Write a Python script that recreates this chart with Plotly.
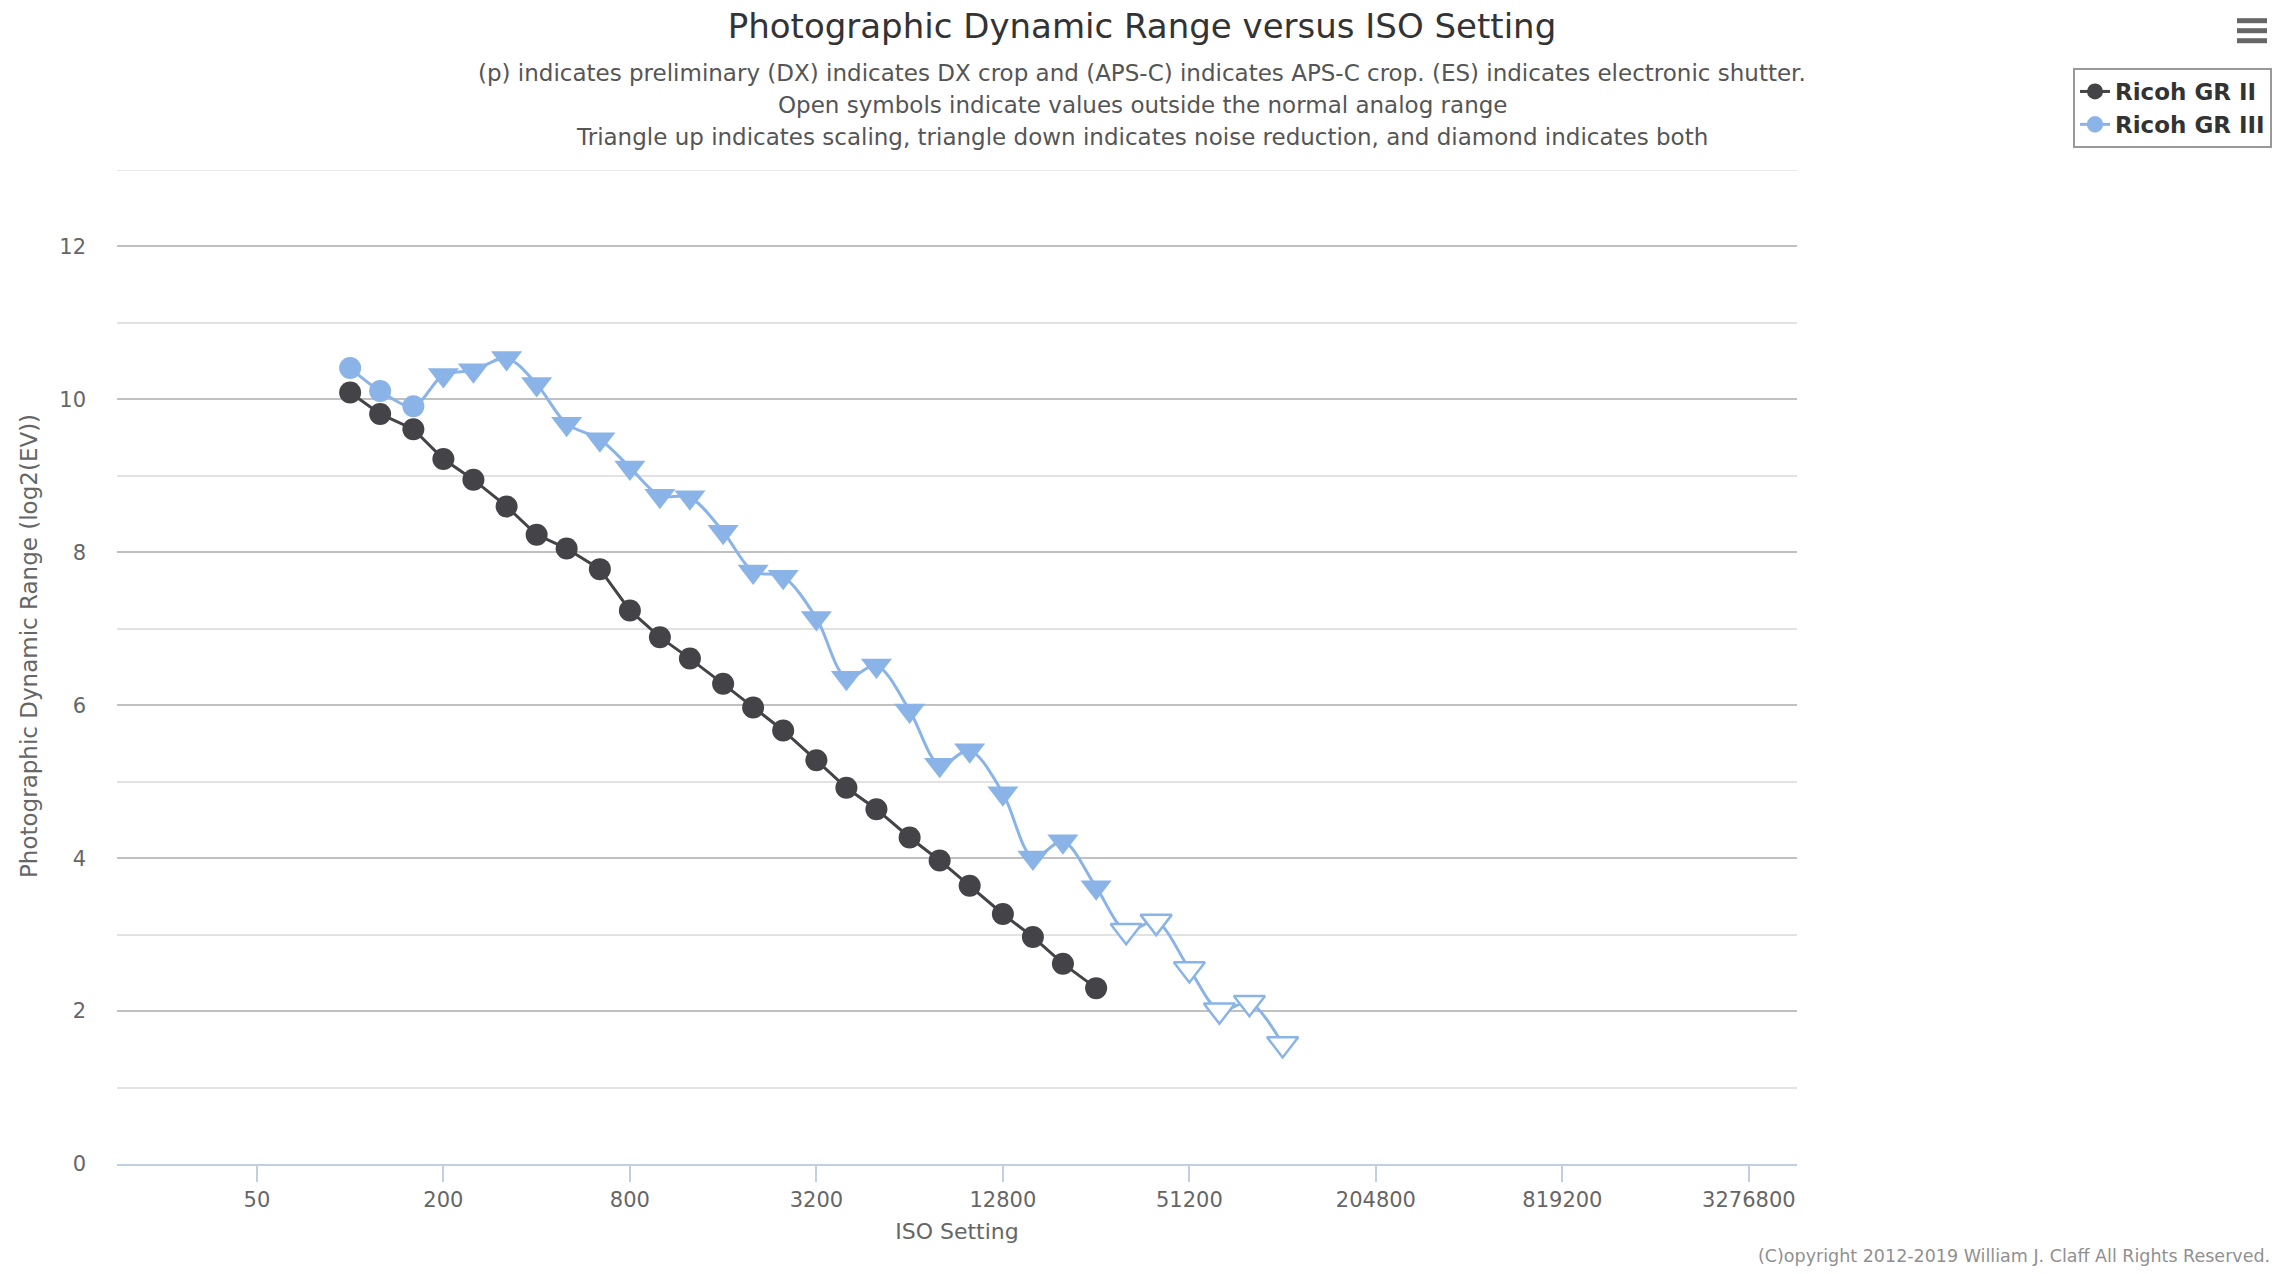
import numpy as np
import plotly.graph_objects as go

# ---------------- data ----------------
iso_gr2 = [100, 125, 160, 200, 250, 320, 400, 500, 640, 800, 1000, 1250, 1600,
           2000, 2500, 3200, 4000, 5000, 6400, 8000, 10000, 12800, 16000, 20000, 25600]
dr_gr2 = [10.09, 9.81, 9.61, 9.22, 8.95, 8.60, 8.23, 8.05, 7.78, 7.24, 6.89, 6.61, 6.28,
          5.97, 5.67, 5.28, 4.92, 4.64, 4.27, 3.97, 3.64, 3.27, 2.97, 2.62, 2.30]

iso_gr3 = [100, 125, 160, 200, 250, 320, 400, 500, 640, 800, 1000, 1250, 1600,
           2000, 2500, 3200, 4000, 5000, 6400, 8000, 10000, 12800, 16000, 20000, 25600,
           32000, 40000, 51200, 64000, 80000, 102400]
dr_gr3 = [10.41, 10.11, 9.91, 10.32, 10.38, 10.54, 10.20, 9.68, 9.48, 9.11, 8.74, 8.72, 8.27,
          7.75, 7.68, 7.14, 6.36, 6.52, 5.93, 5.22, 5.41, 4.85, 4.01, 4.22, 3.62,
          3.05, 3.17, 2.55, 2.01, 2.11, 1.57]
# flags: noise reduction applied (triangle down), outside normal analog range (open symbol)
gr3_noise_reduction = [0, 0, 0] + [1] * 28
gr3_outside_analog = [0] * 25 + [1] * 6

x_tick_vals = [50, 200, 800, 3200, 12800, 51200, 204800, 819200, 3276800]
x_tick_text = ["50", "200", "800", "3200", "12800", "51200", "204800", "819200", "3276800"]

# ---------------- styling ----------------
FONT = "DejaVu Sans"
C_DARK = "#434348"
C_BLUE = "#8ab4e8"

gr3_symbols = ["triangle-down" if nr else "circle" for nr in gr3_noise_reduction]
gr3_sizes = [27 if nr else 22 for nr in gr3_noise_reduction]
gr3_fill = ["white" if o else C_BLUE for o in gr3_outside_analog]
gr3_lw = [2.5 if o else 0 for o in gr3_outside_analog]

fig = go.Figure()
fig.add_trace(go.Scatter(
    x=iso_gr2, y=dr_gr2, name="Ricoh GR II", mode="lines+markers",
    line=dict(color=C_DARK, width=3),
    marker=dict(symbol="circle", size=22, color=C_DARK, opacity=1),
))
fig.add_trace(go.Scatter(
    x=iso_gr3, y=dr_gr3, name="Ricoh GR III", mode="lines+markers",
    line=dict(color=C_BLUE, width=3, shape="spline", smoothing=0.9),
    marker=dict(symbol=gr3_symbols, size=gr3_sizes, color=gr3_fill, opacity=1,
                line=dict(color=C_BLUE, width=gr3_lw)),
))

L, R, T, B = 117, 487, 170, 110
W, H = 2284, 1274
pw, ph = W - L - R, H - T - B

def px(xpix):
    return (xpix - L) / pw

def py(ypix):
    return (H - B - ypix) / ph

xr = [np.log10(50) - 1.5 * np.log10(2), np.log10(3276800) + 0.516 * np.log10(2)]

fig.update_layout(
    width=W, height=H,
    margin=dict(l=L, r=R, t=T, b=B, pad=0),
    paper_bgcolor="white", plot_bgcolor="white",
    font=dict(family=FONT, color="#666666"),
    title=dict(text="Photographic Dynamic Range versus ISO Setting",
               x=0.5, xref="container", xanchor="center",
               y=1 - 26 / H, yref="container", yanchor="middle",
               font=dict(family=FONT, size=34, color="#333333")),
    xaxis=dict(type="log", range=xr, tickvals=x_tick_vals, ticktext=x_tick_text,
               showgrid=False, zeroline=False,
               showline=True, linecolor="#c0d0e0", linewidth=2,
               ticks="outside", ticklen=16, tickwidth=2, tickcolor="#c0d0e0",
               tickfont=dict(size=21, color="#666666"),
               title=dict(text="ISO Setting", font=dict(size=22, color="#666666"), standoff=12)),
    yaxis=dict(range=[0, 13], tick0=0, dtick=2, showgrid=True, gridcolor="#c0c0c0", gridwidth=1.5,
               minor=dict(dtick=1, tick0=0, showgrid=True, gridcolor="#e2e2e2", gridwidth=1.5),
               zeroline=False, showline=False, ticks="",
               ticklabelstandoff=30,
               tickfont=dict(size=21, color="#666666")),
    legend=dict(x=px(2272), y=py(68), xanchor="right", yanchor="top",
                bordercolor="#999999", borderwidth=2, bgcolor="white",
                font=dict(family=FONT, size=23, color="#333333", weight="bold"),
                itemsizing="trace", tracegroupgap=0),
    showlegend=True,
)

# top (13) light grid line at the edge of the plot
fig.add_shape(type="line", xref="paper", yref="y", x0=0, x1=1, y0=13, y1=13,
              line=dict(color="#e2e2e2", width=1.5), layer="below")

# y axis title
fig.add_annotation(text="Photographic Dynamic Range (log2(EV))", textangle=-90,
                   x=px(29), y=py(646), xref="paper", yref="paper",
                   xanchor="center", yanchor="middle", showarrow=False,
                   font=dict(family=FONT, size=23, color="#666666"))

subs = ["(p) indicates preliminary (DX) indicates DX crop and (APS-C) indicates APS-C crop. (ES) indicates electronic shutter.",
        "Open symbols indicate values outside the normal analog range",
        "Triangle up indicates scaling, triangle down indicates noise reduction, and diamond indicates both"]
for s, yp in zip(subs, [72.8, 104.9, 136.9]):
    fig.add_annotation(text=s, x=px(1142), y=py(yp), xref="paper", yref="paper",
                       xanchor="center", yanchor="middle", showarrow=False,
                       font=dict(family=FONT, size=23, color="#555555"))

fig.add_annotation(text="(C)opyright 2012-2019 William J. Claff All Rights Reserved.",
                   x=px(2272), y=py(1256), xref="paper", yref="paper",
                   xanchor="right", yanchor="middle", showarrow=False,
                   font=dict(family=FONT, size=17.5, color="#909090"))

# export menu icon
for yy in [20.7, 30.7, 40.7]:
    fig.add_shape(type="line", xref="paper", yref="paper",
                  x0=px(2237), x1=px(2267), y0=py(yy), y1=py(yy),
                  line=dict(color="#666666", width=5))

fig.write_html("out.html")
